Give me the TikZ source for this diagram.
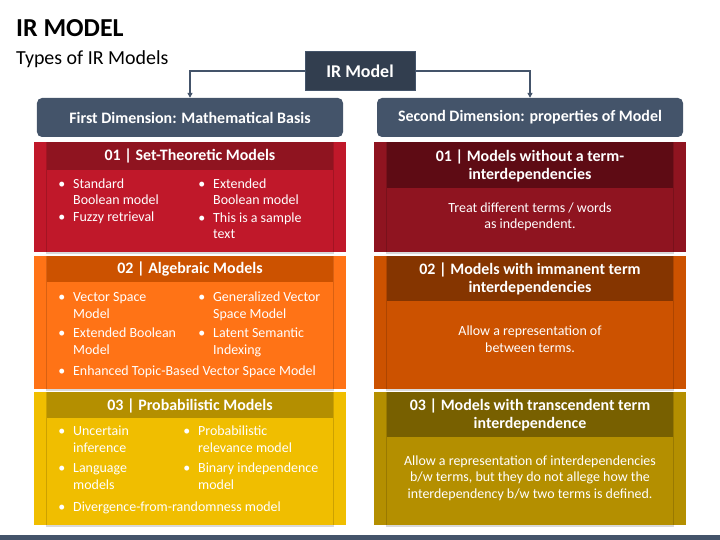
\documentclass[tikz,border=0pt]{standalone}
\usepackage{fontspec}
\setmainfont{Carlito}
\usepackage{tikz}
\usetikzlibrary{arrows.meta, positioning, calc}
\definecolor{slate}{RGB}{68,84,106}
\definecolor{slatedark}{RGB}{50,62,79}
\definecolor{setred}{RGB}{192,24,42}
\definecolor{setredhd}{RGB}{143,20,32}
\definecolor{termred}{RGB}{143,20,32}
\definecolor{termredhd}{RGB}{94,11,20}
\definecolor{algorange}{RGB}{255,115,22}
\definecolor{algorangehd}{RGB}{204,82,0}
\definecolor{termorange}{RGB}{204,82,0}
\definecolor{termorangehd}{RGB}{133,53,0}
\definecolor{probyellow}{RGB}{240,190,0}
\definecolor{probyellowhd}{RGB}{180,143,0}
\definecolor{termyellow}{RGB}{180,143,0}
\definecolor{termyellowhd}{RGB}{120,96,0}

\tikzset{
  dimbox/.style={fill=slate, rounded corners=5bp, minimum width=306bp, minimum height=39bp, text=white, font=\bfseries\fontsize{16}{18}\selectfont},
  hdtext/.style={text=white, inner sep=0pt, font=\bfseries\fontsize{16}{18}\selectfont, align=center},
  bultext/.style={text=white, inner sep=0pt, anchor=base west, font=\fontsize{14}{17}\selectfont, align=left},
  bodytext/.style={text=white, inner sep=0pt, font=\fontsize{14}{16.5}\selectfont, align=center},
}

% outer strip, shadowed inner card, header bar
\newcommand{\panelbox}[6]{%
  \fill[#5] (#1,#2) rectangle (#1+312,#3);
  \fill[black, opacity=0.15] (#1+12,#2) rectangle (#1+300,#3+2);
  \fill[#5] (#1+13,#2) rectangle (#1+299,#3);
  \fill[#6] (#1+13,#2) rectangle (#1+299,#4);
}
\newcommand{\bul}{\llap{\textbullet\hspace{8bp}}}

\begin{document}
\begin{tikzpicture}[x=1bp, y=-1bp]
\useasboundingbox (0,0) rectangle (720,540);

\node[anchor=base west, inner sep=0pt, font=\bfseries\fontsize{26}{30}\selectfont] (title) at (16,37) {IR MODEL};
\node[anchor=base west, inner sep=0pt, font=\fontsize{20}{24}\selectfont] (subtitle) at (16,65) {Types of IR Models};

\node[fill=slatedark, draw=slate, line width=1bp, minimum width=110bp, minimum height=39bp, text=white, font=\bfseries\fontsize{18}{20}\selectfont] (irm) at (360,71) {IR Model};
\node[dimbox] (dim1) at (190,117.5) {First Dimension: Mathematical Basis};
\node[dimbox] (dim2) at (530,117.5) {Second Dimension: properties of Model};
\draw[slate, line width=1.5bp, -{Triangle[width=5bp,length=5bp]}] (irm.west) -| (dim1.north);
\draw[slate, line width=1.5bp, -{Triangle[width=5bp,length=5bp]}] (irm.east) -| (dim2.north);

% left column (base = last line)
\panelbox{34}{142}{252}{170}{setred}{setredhd}
\panelbox{34}{256}{389}{282}{algorange}{algorangehd}
\panelbox{34}{392}{525}{418}{probyellow}{probyellowhd}

\node[hdtext, anchor=base] (sethd) at (190,161) {01 | Set-Theoretic Models};
\node[bultext] (set1) at (73,205) {\bul Standard\\Boolean model};
\node[bultext] (set2) at (73,222) {\bul Fuzzy retrieval};
\node[bultext] (set3) at (213,205) {\bul Extended\\Boolean model};
\node[bultext] (set4) at (213,239) {\bul This is a sample\\text};

\node[hdtext, anchor=base] (alghd) at (190,274) {02 | Algebraic Models};
\node[bultext] (alg1) at (73,318) {\bul Vector Space\\Model};
\node[bultext] (alg2) at (73,354) {\bul Extended Boolean\\Model};
\node[bultext] (alg3) at (213,318) {\bul Generalized Vector\\Space Model};
\node[bultext] (alg4) at (213,354) {\bul Latent Semantic\\Indexing};
\node[bultext] (alg5) at (73,375) {\bul Enhanced Topic-Based Vector Space Model};

\node[hdtext, anchor=base] (probhd) at (190,410) {03 | Probabilistic Models};
\node[bultext] (prob1) at (73,452) {\bul Uncertain\\inference};
\node[bultext] (prob2) at (73,489) {\bul Language\\models};
\node[bultext] (prob3) at (198,452) {\bul Probabilistic\\relevance model};
\node[bultext] (prob4) at (198,489) {\bul Binary independence\\model};
\node[bultext] (prob5) at (73,511) {\bul Divergence-from-randomness model};

% right column
\panelbox{374}{142}{252}{188}{termred}{termredhd}
\panelbox{374}{256}{389}{301}{termorange}{termorangehd}
\panelbox{374}{392}{525}{437}{termyellow}{termyellowhd}

\node[hdtext] (nohd) at (530,166) {01 | Models without a term-\\interdependencies};
\node[bodytext] (notxt) at (530,217) {Treat different terms / words\\as independent.};
\node[hdtext] (immhd) at (530,279) {02 | Models with immanent term\\interdependencies};
\node[bodytext] (immtxt) at (530,339) {Allow a representation of\\between terms.};
\node[hdtext] (trhd) at (530,415) {03 | Models with transcendent term\\interdependence};
\node[bodytext] (trtxt) at (530,478) {Allow a representation of interdependencies\\b/w terms, but they do not allege how the\\interdependency b/w two terms is defined.};

\fill[slate] (0,535) rectangle (720,540);
\end{tikzpicture}
\end{document}
